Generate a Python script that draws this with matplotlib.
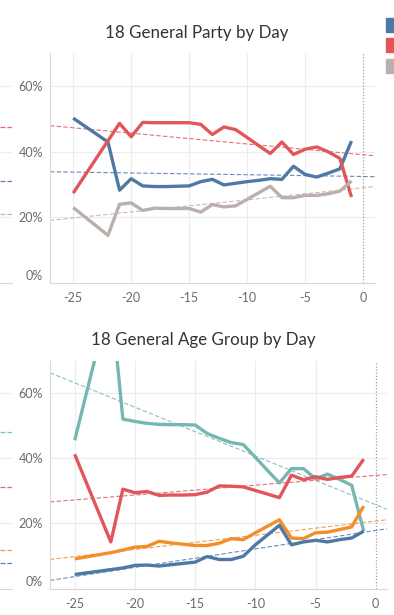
import matplotlib.pyplot as plt
import numpy as np
from matplotlib.patches import Rectangle

plt.rcParams['font.family'] = ['Lato', 'DejaVu Sans']

# days before the election (no polls on -24 and -23)
days = [-25, -22, -21, -20, -19, -18, -17, -16, -15, -14, -13, -12,
        -11, -10, -9, -8, -7, -6, -5, -4, -3, -2, -1]

# 18 General Party by Day (percent)
party_colors = ["#4e79a7", "#e15759", "#bab0ac"]
party_blue = [50.2, 42.9, 28.2, 31.7, 29.5, 29.3, 29.3, 29.4, 29.5, 30.8, 31.5, 29.8,
              30.3, 30.8, 31.2, 31.7, 31.5, 35.5, 33.0, 32.2, 33.4, 34.7, 43.2]
party_red = [27.3, 43.3, 48.6, 44.5, 48.9, 48.8, 48.8, 48.8, 48.8, 48.3, 45.2, 47.5,
             46.7, 44.3, 41.8, 39.4, 42.9, 39.1, 40.7, 41.4, 39.9, 37.9, 26.1]
party_gray = [22.9, 14.4, 23.9, 24.3, 22.0, 22.7, 22.6, 22.6, 22.6, 21.5, 23.8, 23.1,
              23.4, 25.4, 27.4, 29.4, 25.9, 25.9, 26.6, 26.6, 27.1, 27.9, 31.0]

# 18 General Age Group by Day (percent)
age_colors = ["#76b7b2", "#e15759", "#f28e2b", "#4e79a7"]
age_teal = [45.5, 90.0, 52.0, 51.3, 50.7, 50.4, 50.3, 50.3, 50.2, 47.6, 46.1, 44.8,
            44.2, 40.3, 36.3, 32.4, 36.8, 36.8, 33.7, 35.1, 33.5, 31.7, 17.6]
age_red = [41.2, 14.3, 30.5, 29.4, 29.8, 28.6, 28.7, 28.7, 28.8, 29.6, 31.5, 31.4,
           31.2, 30.1, 29.0, 27.9, 34.8, 33.4, 34.3, 33.5, 34.1, 34.5, 39.7]
age_orange = [9.1, 11.0, 11.8, 12.7, 12.9, 14.5, 14.0, 13.6, 13.2, 13.2, 13.9, 15.3,
              15.0, 17.1, 19.1, 21.1, 15.5, 15.3, 17.1, 17.3, 18.1, 18.9, 25.3]
age_blue = [4.3, 5.8, 6.3, 7.1, 7.2, 6.9, 7.3, 7.7, 8.1, 9.8, 8.9, 8.9,
            9.9, 13.4, 16.4, 19.4, 13.4, 14.3, 14.8, 14.3, 15.0, 15.5, 17.6]

# trend line ends of the neighbouring sheet, cut off at the left edge
left_party_trend = [31.0, 47.5, 21.0]
left_age_trend = [48.1, 31.2, 11.7, 7.8]

x_ticks = [-25, -20, -15, -10, -5, 0]
y_ticks = [0, 20, 40, 60]

W, H = 394, 615
GRID = "#ececec"
AXIS = "#d9d9d9"
LABEL = "#6b6b6b"


def px_box(x0, y0, x1, y1):
    """pixel box (top-left origin) -> figure fraction rect"""
    return [x0 / W, 1 - y1 / H, (x1 - x0) / W, (y1 - y0) / H]


def draw_panel(ax, series, colors, x_left, x_right):
    for vals, c in zip(series, colors):
        ax.plot(days, vals, color=c, lw=2.4, zorder=3, solid_capstyle='butt')
        # linear trend like tableau's trend line
        slope, icpt = np.polyfit(days, vals, 1)
        xs = np.array([x_left, x_right])
        ax.plot(xs, slope * xs + icpt, color=c, lw=0.8, ls=(0, (4, 2)),
                alpha=0.85, zorder=2)
    ax.axvline(0, color="#a0a0a0", lw=0.9, ls=(0, (1, 1.5)), zorder=1)
    ax.set_xlim(x_left, x_right)
    ax.set_ylim(0, 70)
    ax.set_xticks(x_ticks)
    ax.set_xticklabels([str(t) for t in x_ticks])
    ax.set_yticks(y_ticks)
    ax.set_yticklabels(["%d%%" % t for t in y_ticks])
    ax.tick_params(length=0, labelsize=9, labelcolor=LABEL)
    ax.tick_params(axis='y', pad=5)
    ax.tick_params(axis='x', pad=7)
    ax.get_yticklabels()[0].set_verticalalignment('bottom')
    for t in x_ticks[:-1]:
        ax.axvline(t, color=GRID, lw=0.8, zorder=0)
    for t in y_ticks[1:]:
        ax.axhline(t, color=GRID, lw=0.8, zorder=0)
    for side in ["top", "right"]:
        ax.spines[side].set_visible(False)
    for side in ["left", "bottom"]:
        ax.spines[side].set_color(AXIS)
        ax.spines[side].set_linewidth(0.8)


def draw_stub(ax, values, colors):
    for v, c in zip(values, colors):
        ax.plot([0, 1], [v, v], color=c, lw=0.9, ls=(0, (4, 1.5)), alpha=0.9)
    for t in y_ticks[1:]:
        ax.axhline(t, color=GRID, lw=0.8, zorder=0)
    ax.set_xlim(0, 1)
    ax.set_ylim(0, 70)
    ax.set_xticks([])
    ax.set_yticks([])
    for side in ["top", "right", "left"]:
        ax.spines[side].set_visible(False)
    ax.spines["bottom"].set_color(AXIS)
    ax.spines["bottom"].set_linewidth(0.8)


fig = plt.figure(figsize=(W / 100, H / 100), dpi=100)

ax_top = fig.add_axes(px_box(50, 53.3, 375, 282.5))
draw_panel(ax_top, [party_blue, party_red, party_gray], party_colors, -27.0, 1.03)
ax_bot = fig.add_axes(px_box(50, 360.5, 386.7, 588.5))
draw_panel(ax_bot, [age_teal, age_red, age_orange, age_blue], age_colors, -27.05, 0.91)

draw_stub(fig.add_axes(px_box(0, 53.3, 12, 282.5)), left_party_trend, party_colors)
draw_stub(fig.add_axes(px_box(0, 360.5, 12, 588.5)), left_age_trend, age_colors)

fig.text(197 / W, 1 - 33 / H, "18 General Party by Day", ha='center', va='center',
         fontsize=12.2, color="#333333")
fig.text(203.5 / W, 1 - 340 / H, "18 General Age Group by Day", ha='center', va='center',
         fontsize=12.2, color="#333333")

# colour legend, cut off at the right edge
for i, c in enumerate(party_colors):
    top = 17.5 + 20.5 * i
    fig.patches.append(Rectangle((386 / W, 1 - (top + 14) / H), 10 / W, 14 / H,
                                 transform=fig.transFigure, color=c, figure=fig))

fig.savefig("out.png", dpi=100)
